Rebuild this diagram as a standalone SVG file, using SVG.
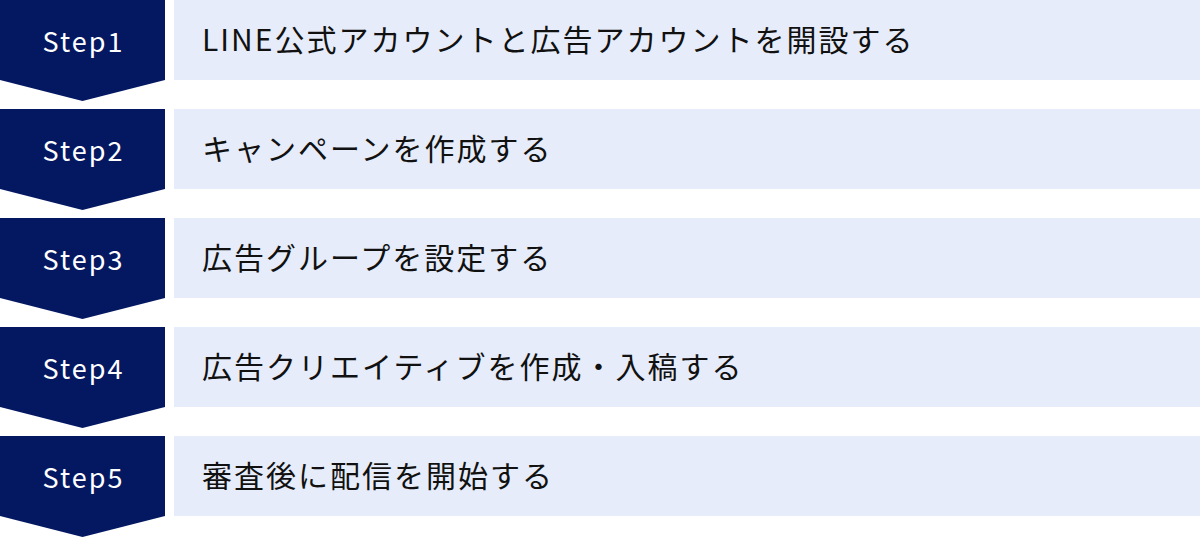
<svg xmlns="http://www.w3.org/2000/svg" width="1200" height="538" viewBox="0 0 1200 538">
<style>
.chev{fill:#041862}
.box{fill:#E6ECF9}
.step{font-family:"Noto Sans CJK JP","Noto Sans",sans-serif;font-size:27px;fill:#ffffff;text-anchor:middle;letter-spacing:2px}
.lbl{font-family:"Noto Sans CJK JP","Noto Sans",sans-serif;font-size:30px;fill:#111111;letter-spacing:2px}
</style>
<rect width="1200" height="538" fill="#ffffff"/>
<g id="step1">
<polygon class="chev" points="0,0 165,0 165,80 82.5,101 0,80"/>
<rect class="box" x="174" y="0" width="1026" height="80"/>
<text class="step" x="83.5" y="52">Step1</text>
<text class="lbl" x="202" y="51">LINE公式アカウントと広告アカウントを開設する</text>
</g>
<g id="step2">
<polygon class="chev" points="0,109 165,109 165,189 82.5,210 0,189"/>
<rect class="box" x="174" y="109" width="1026" height="80"/>
<text class="step" x="83.5" y="161">Step2</text>
<text class="lbl" x="202" y="160">キャンペーンを作成する</text>
</g>
<g id="step3">
<polygon class="chev" points="0,218 165,218 165,298 82.5,319 0,298"/>
<rect class="box" x="174" y="218" width="1026" height="80"/>
<text class="step" x="83.5" y="270">Step3</text>
<text class="lbl" x="202" y="269">広告グループを設定する</text>
</g>
<g id="step4">
<polygon class="chev" points="0,327 165,327 165,407 82.5,428 0,407"/>
<rect class="box" x="174" y="327" width="1026" height="80"/>
<text class="step" x="83.5" y="379">Step4</text>
<text class="lbl" x="202" y="378">広告クリエイティブを作成・入稿する</text>
</g>
<g id="step5">
<polygon class="chev" points="0,436 165,436 165,516 82.5,537 0,516"/>
<rect class="box" x="174" y="436" width="1026" height="80"/>
<text class="step" x="83.5" y="488">Step5</text>
<text class="lbl" x="202" y="487">審査後に配信を開始する</text>
</g>
<g id="connectors"></g>
</svg>
